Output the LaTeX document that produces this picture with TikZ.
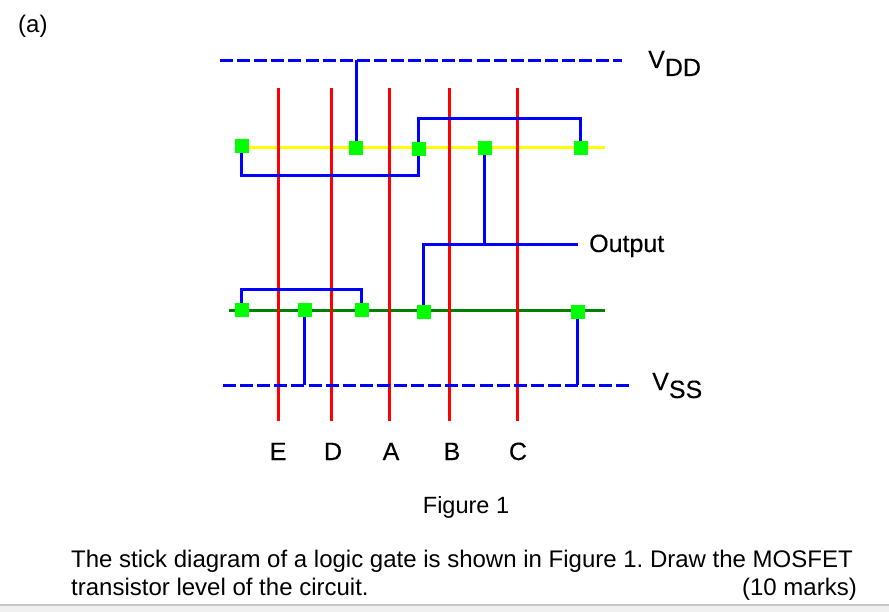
\documentclass[tikz,border=0pt]{standalone}
\usepackage{fontspec}
\setmainfont{Liberation Sans}
\newfontfamily\tagfont[FakeBold=0.25]{Liberation Sans}
\usepackage{tikz}
\usetikzlibrary{positioning,backgrounds}
\frenchspacing
\definecolor{railblue}{RGB}{0,0,255}
\definecolor{polyred}{RGB}{255,0,0}
\definecolor{diffyellow}{RGB}{255,255,0}
\definecolor{diffgreen}{RGB}{0,128,0}
\definecolor{contactgreen}{RGB}{0,255,0}
\tikzstyle{metal} = [line width=3pt,color=railblue]
\tikzstyle{rail} = [line width=3pt,color=railblue,dash pattern=on 13pt off 4.1pt]
\tikzstyle{poly} = [line width=3pt,color=polyred]
\tikzstyle{contact} = [fill=contactgreen,minimum size=14pt,inner sep=0pt]
\tikzstyle{body} = [inner sep=0pt,font=\fontsize{24}{28}\selectfont]
\tikzstyle{tag} = [inner sep=0pt,font=\tagfont\fontsize{25}{30}\selectfont]

\begin{document}
\begin{tikzpicture}[x=1pt,y=-1pt]
\useasboundingbox (0,0) rectangle (889,612);

% Contacts
\node[contact] (p1) at (241.5,146.5) {};
\node[contact] (p2) at (356,148) {};
\node[contact] (p3) at (418.5,149.5) {};
\node[contact] (p4) at (484.5,148) {};
\node[contact] (p5) at (580.5,148) {};
\node[contact] (n1) at (241.5,310.5) {};
\node[contact] (n2) at (304.5,310.5) {};
\node[contact] (n3) at (361.5,310.5) {};
\node[contact] (n4) at (423.5,312) {};
\node[contact] (n5) at (577.5,312) {};

\begin{scope}[on background layer]
% Bottom strip
\fill[black!6] (0,605) rectangle (889,612);
\draw[black!22, line width=1.5pt] (0,605) -- (889,605);

% Diffusion
\coordinate (pl) at (241,147.5);
\coordinate (pr) at (605,147.5);
\coordinate (nl) at (229,311);
\coordinate (nr) at (605,311);
\draw[line width=3pt, diffyellow] (pl) -- (pr);
\draw[line width=3pt, diffgreen] (nl) -- (nr);

% Poly gates
\foreach \name/\x/\lab/\lx in {e/278.5/E/278, d/331/D/333, a/389.5/A/391, b/449.5/B/452, c/517/C/518} {
  \coordinate (\name top) at (\x,88);
  \coordinate (\name bot) at (\x,421);
  \draw[poly] (\name top) -- (\name bot);
  \node[tag, anchor=base] (lab\name) at (\lx,460) {\lab};
}

% Supply rails
\coordinate (vddl) at (220,60.5);
\coordinate (vddr) at (622,60.5);
\coordinate (vssl) at (223,385);
\coordinate (vssr) at (630,385);
\draw[rail] (vddl) -- (vddr);
\draw[rail] (vssl) -- (vssr);

% Metal
\coordinate (lowbar) at (241,176);
\coordinate (highbar) at (418,119);
\coordinate (nbar) at (242,290);
\coordinate (outend) at (578,245);
\draw[metal] (p2 |- vddl) -- (p2.center);
\draw[metal] (p1.center) -- (p1 |- lowbar) -| (p3.center);
\draw[metal] (p3.center) -- (p3 |- highbar) -| (p5.center);
\draw[metal] (n1.center) -- (n1 |- nbar) -| (n3.center);
\draw[metal] (n2.center) -- (n2 |- vssl);
\draw[metal] (n5.center) -- (n5 |- vssl);
\draw[metal] (n4.center) |- (outend);
\draw[metal] (p4.center) -- (p4 |- outend);
\end{scope}

% Labels
\node[tag, anchor=base west] (vdd) at (648,68) {V\raisebox{-8pt}{DD}};
\node[tag, anchor=base west] (vss) at (652,390) {V\raisebox{-8pt}{SS}};
\node[tag, anchor=base west] (output) at (589,252) {Output};

% Text
\node[body, anchor=base west] (part) at (18,33) {(a)};
\node[body, anchor=base, font=\fontsize{23.5}{28}\selectfont] (figure) at (466,513) {Figure 1};
\node[body, anchor=base west] (line1) at (71,567) {The stick diagram of a logic gate is shown in Figure 1. Draw the MOSFET};
\node[body, anchor=base west] (line2) at (71,595) {transistor level of the circuit.};
\node[body, anchor=base east] (marks) at (857,595) {(10 marks)};
\end{tikzpicture}
\end{document}
